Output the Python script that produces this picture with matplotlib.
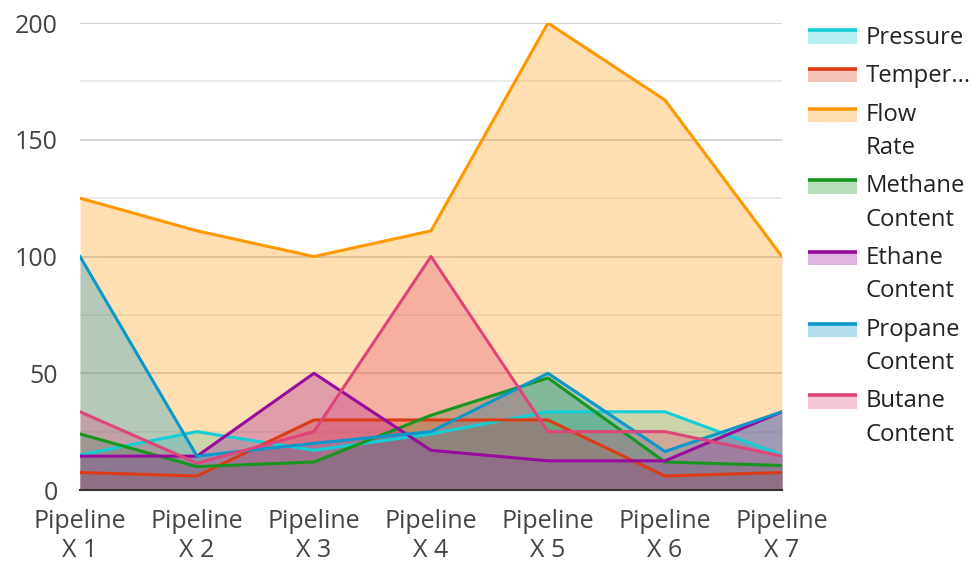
import matplotlib
matplotlib.use('Agg')
import matplotlib.pyplot as plt
from matplotlib.legend_handler import HandlerBase
from matplotlib.patches import Rectangle
from matplotlib.lines import Line2D
from matplotlib.ticker import MultipleLocator

plt.rcParams['font.family'] = ['Open Sans', 'DejaVu Sans']

# data
categories = ['Pipeline\nX 1', 'Pipeline\nX 2', 'Pipeline\nX 3', 'Pipeline\nX 4',
              'Pipeline\nX 5', 'Pipeline\nX 6', 'Pipeline\nX 7']
pressure = [15, 25, 17, 24, 33.5, 33.5, 15]
temperature = [7.5, 6, 30, 30, 30, 6, 7.5]
flow_rate = [125, 111, 100, 111, 200, 167, 100]
methane = [24, 10, 12, 32, 48, 12, 10.5]
ethane = [14.5, 14.5, 50, 17, 12.5, 12.5, 33.5]
propane = [100, 14.5, 20, 25, 50, 16.5, 33.5]
butane = [33.5, 11.5, 25, 100, 25, 25, 14.5]

series_names = ['Pressure', 'Temper...', 'Flow\nRate', 'Methane\nContent',
                'Ethane\nContent', 'Propane\nContent', 'Butane\nContent']
series_values = [pressure, temperature, flow_rate, methane, ethane, propane, butane]
series_colors = ['#12CED6', '#DE3B14', '#FF9800', '#16961E',
                 '#990A9E', '#0A97CB', '#DE457A']


class AreaHandler(HandlerBase):
    """Legend swatch: light filled box with the line along its top edge."""
    def create_artists(self, legend, orig_handle, xdescent, ydescent,
                       width, height, fontsize, trans):
        color = orig_handle.get_color()
        shift = getattr(orig_handle, 'shift', 0) * fontsize
        top = -ydescent + height * 0.8 + shift
        box = Rectangle((-xdescent, top - height * 0.8), width, height * 0.8,
                        facecolor=color, alpha=0.3, edgecolor='none', transform=trans)
        line = Line2D([-xdescent, -xdescent + width], [top, top], color=color,
                      lw=2.6, transform=trans, solid_capstyle='butt')
        return [box, line]


fig = plt.figure(figsize=(9.72, 5.62), dpi=100)
ax = fig.add_axes([0.0823, 0.1281, 0.7222, 0.8309])

x = range(len(categories))
handles = []
for name, vals, color in zip(series_names, series_values, series_colors):
    ax.fill_between(x, vals, 0, color=color, alpha=0.3, lw=0, zorder=2)
    ln, = ax.plot(x, vals, color=color, lw=2.2, zorder=3)
    ln.shift = 0.76 if '\n' in name else 0
    handles.append(ln)

ax.set_xlim(0, len(categories) - 1)
ax.set_ylim(0, 200)
ax.yaxis.set_major_locator(MultipleLocator(50))
ax.yaxis.set_minor_locator(MultipleLocator(25))
ax.set_xticks(list(x))
ax.set_xticklabels(categories, fontsize=18, color='#444444', linespacing=1.2)
ax.tick_params(axis='y', labelsize=18, labelcolor='#444444', length=0, pad=16)
ax.tick_params(axis='y', which='minor', length=0)
ax.tick_params(axis='x', length=0, pad=13.5)
ax.grid(True, axis='y', which='major', color='#cccccc', lw=1.2, zorder=0)
ax.grid(True, axis='y', which='minor', color='#e6e6e6', lw=1.2, zorder=0)

for s in ['top', 'right', 'left']:
    ax.spines[s].set_visible(False)
ax.spines['bottom'].set_color('#333333')
ax.spines['bottom'].set_linewidth(1.5)
ax.spines['bottom'].set_zorder(4)

leg = fig.legend(handles=handles, labels=series_names, loc='upper left',
                 bbox_to_anchor=(0.831, 0.954), frameon=False, fontsize=17.2,
                 handler_map={Line2D: AreaHandler()}, handlelength=2.05,
                 handletextpad=0.38, labelspacing=0.6, borderpad=0,
                 borderaxespad=0, labelcolor='#222222')
for t in leg.get_texts():
    t.set_linespacing(1.52)

fig.savefig('out.png', dpi=100)
